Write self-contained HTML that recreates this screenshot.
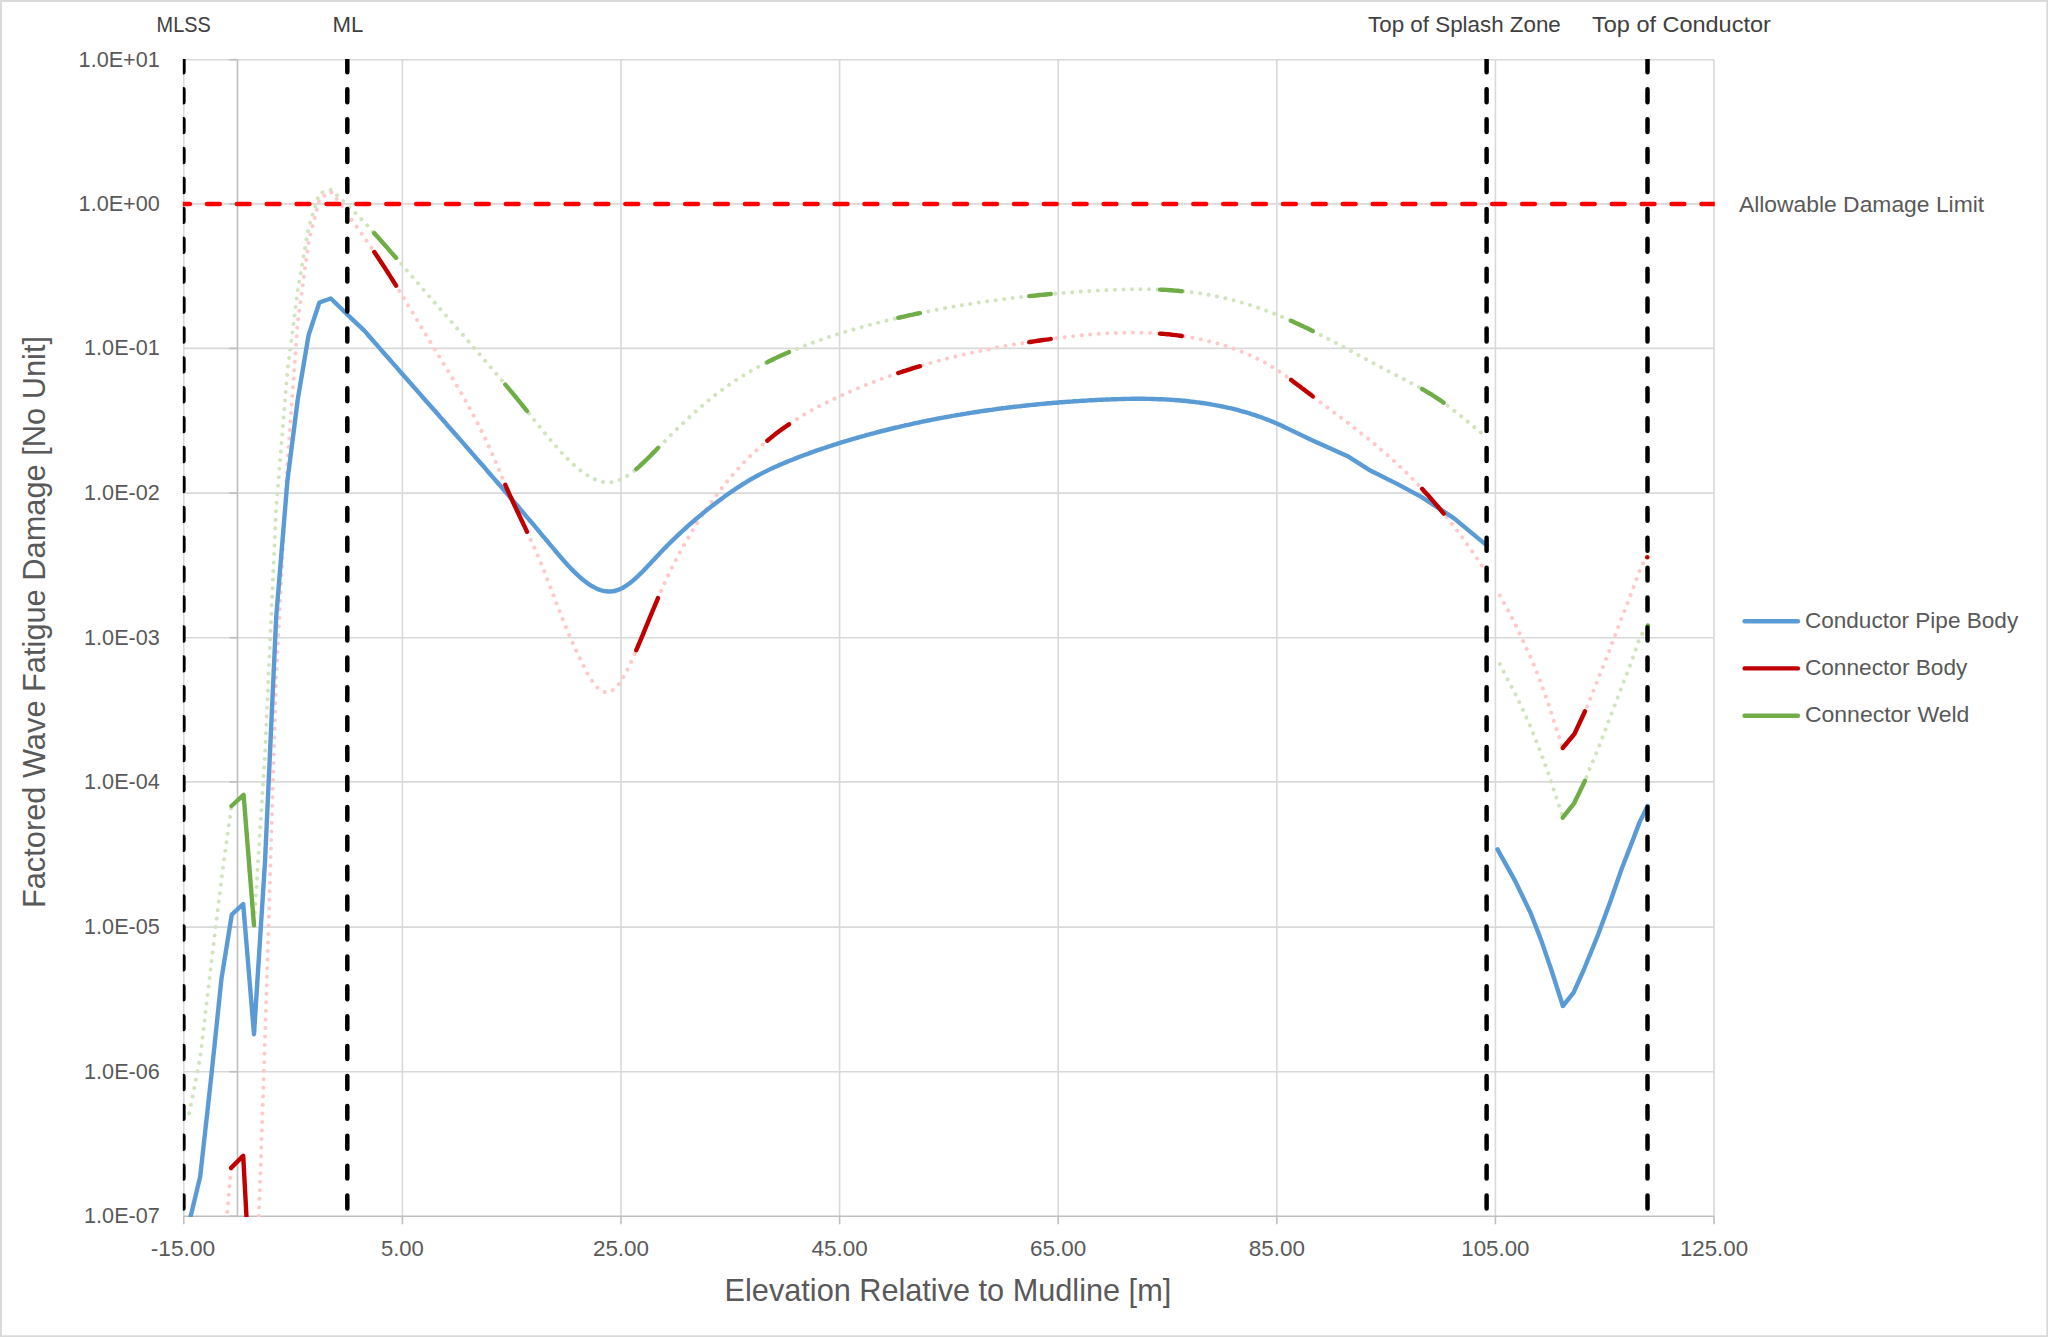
<!DOCTYPE html>
<html lang="en"><head><meta charset="utf-8"><title>Factored Wave Fatigue Damage</title>
<style>html,body{margin:0;padding:0;background:#fff;}body{width:2048px;height:1337px;overflow:hidden;}svg{display:block;}text{font-family:"Liberation Sans",sans-serif;}.t{font-size:22px;fill:#595959;}.d{font-size:22px;fill:#404040;}.a{font-size:30.5px;fill:#595959;}</style></head><body>
<svg width="2048" height="1337" viewBox="0 0 2048 1337">
<rect x="0" y="0" width="2048" height="1337" fill="#fff"/>
<g fill="#d9d9d9"><rect x="0" y="0" width="2048" height="1.9"/><rect x="0" y="0" width="1.9" height="1337"/><rect x="2046.3" y="0" width="1.7" height="1337"/><rect x="0" y="1335.3" width="2048" height="1.7"/></g>
<defs><clipPath id="pa"><rect x="182.8" y="59.0" width="1532.0" height="1158.1"/></clipPath></defs>
<g stroke="#d9d9d9" stroke-width="1.6" fill="none"><line x1="183.8" y1="59.7" x2="1714.0" y2="59.7"/><line x1="183.8" y1="203.9" x2="1714.0" y2="203.9"/><line x1="183.8" y1="348.4" x2="1714.0" y2="348.4"/><line x1="183.8" y1="493.1" x2="1714.0" y2="493.1"/><line x1="183.8" y1="637.7" x2="1714.0" y2="637.7"/><line x1="183.8" y1="781.9" x2="1714.0" y2="781.9"/><line x1="183.8" y1="927.1" x2="1714.0" y2="927.1"/><line x1="183.8" y1="1071.7" x2="1714.0" y2="1071.7"/><line x1="183.8" y1="59.7" x2="183.8" y2="1216.3"/><line x1="402.4" y1="59.7" x2="402.4" y2="1216.3"/><line x1="621.0" y1="59.7" x2="621.0" y2="1216.3"/><line x1="839.6" y1="59.7" x2="839.6" y2="1216.3"/><line x1="1058.2" y1="59.7" x2="1058.2" y2="1216.3"/><line x1="1276.8" y1="59.7" x2="1276.8" y2="1216.3"/><line x1="1495.4" y1="59.7" x2="1495.4" y2="1216.3"/><line x1="1714.0" y1="59.7" x2="1714.0" y2="1216.3"/></g>
<g stroke="#bfbfbf" stroke-width="1.6" fill="none"><line x1="183.8" y1="1216.3" x2="1714.0" y2="1216.3"/><line x1="183.8" y1="1216.3" x2="183.8" y2="1224.3"/><line x1="402.4" y1="1216.3" x2="402.4" y2="1224.3"/><line x1="621.0" y1="1216.3" x2="621.0" y2="1224.3"/><line x1="839.6" y1="1216.3" x2="839.6" y2="1224.3"/><line x1="1058.2" y1="1216.3" x2="1058.2" y2="1224.3"/><line x1="1276.8" y1="1216.3" x2="1276.8" y2="1224.3"/><line x1="1495.4" y1="1216.3" x2="1495.4" y2="1224.3"/><line x1="1714.0" y1="1216.3" x2="1714.0" y2="1224.3"/><line x1="237.5" y1="59.7" x2="237.5" y2="1216.3"/><line x1="229.5" y1="59.7" x2="237.5" y2="59.7"/><line x1="229.5" y1="203.9" x2="237.5" y2="203.9"/><line x1="229.5" y1="348.4" x2="237.5" y2="348.4"/><line x1="229.5" y1="493.1" x2="237.5" y2="493.1"/><line x1="229.5" y1="637.7" x2="237.5" y2="637.7"/><line x1="229.5" y1="781.9" x2="237.5" y2="781.9"/><line x1="229.5" y1="927.1" x2="237.5" y2="927.1"/><line x1="229.5" y1="1071.7" x2="237.5" y2="1071.7"/><line x1="229.5" y1="1216.3" x2="237.5" y2="1216.3"/></g>
<g clip-path="url(#pa)" fill="none" stroke-linecap="round" stroke-linejoin="round" stroke-width="4.4">
<polyline stroke="#ffc9c9" stroke-width="4.0" stroke-dasharray="0.01 8.54" points="221.5,1280.0 231.1,1167.9 243.2,1155.8 254.0,1356.0 265.0,1040.0 276.2,676.0 287.4,463.0 297.8,321.0 308.8,241.0 319.4,199.0 330.6,191.5 337.8,200.4 339.8,203.2 341.8,206.0 343.8,208.8 345.8,211.6 347.8,214.4 349.8,217.2 351.8,220.0 353.8,222.8 355.8,225.5 357.8,228.3 359.8,231.1 361.8,233.9 363.8,236.8 365.8,239.6 367.8,242.5 369.8,245.4 371.8,248.3 373.8,251.2 375.8,254.2 377.8,257.2 379.8,260.2 381.8,263.2 383.8,266.3 385.8,269.4 387.8,272.5 389.8,275.7 391.8,278.9 393.8,282.0 395.8,285.2 397.8,288.5 399.8,291.7 401.8,294.9 403.8,298.2 405.8,301.5 407.8,304.7 409.8,308.0 411.8,311.3 413.8,314.6 415.8,317.9 417.8,321.2 419.8,324.6 421.8,327.9 423.8,331.2 425.8,334.5 427.8,337.8 429.8,341.1 431.8,344.4 433.8,347.7 435.8,351.0 437.8,354.2 439.8,357.5 441.8,360.8 443.8,364.0 445.8,367.3 447.8,370.6 449.8,373.9 451.8,377.2 453.8,380.5 455.8,383.9 457.8,387.3 459.8,390.7 461.8,394.2 463.8,397.7 465.8,401.2 467.8,404.8 469.8,408.4 471.8,412.1 473.8,415.9 475.8,419.7 477.8,423.6 479.8,427.5 481.8,431.5 483.8,435.6 485.8,439.8 487.8,444.1 489.8,448.5 491.8,452.9 493.8,457.5 495.8,462.1 497.8,466.9 499.8,471.7 501.8,476.5 503.8,481.3 505.8,486.0 507.8,490.6 509.8,495.1 511.8,499.5 513.8,503.8 515.8,508.1 517.8,512.3 519.8,516.5 521.8,520.7 523.8,524.9 525.8,529.1 527.8,533.4 529.8,537.7 531.8,542.0 533.8,546.5 535.8,551.0 537.8,555.7 539.8,560.4 541.8,565.3 543.8,570.3 545.8,575.4 547.8,580.5 549.8,585.7 551.8,590.9 553.8,596.1 555.8,601.4 557.8,606.6 559.8,611.7 561.8,616.8 563.8,621.9 565.8,626.8 567.8,631.7 569.8,636.4 571.8,640.9 573.8,645.4 575.8,649.7 577.8,654.0 579.8,658.1 581.8,662.2 583.8,666.3 585.8,670.2 587.8,673.9 589.8,677.4 591.8,680.6 593.8,683.5 595.8,686.0 597.8,688.0 599.8,689.7 601.8,691.0 603.8,691.8 605.8,692.2 607.8,692.1 609.8,691.6 611.8,690.7 613.8,689.4 615.8,687.6 617.8,685.4 619.8,682.8 621.8,679.8 623.8,676.5 625.8,672.9 627.8,668.9 629.8,664.8 631.8,660.5 633.8,656.0 635.8,651.3 637.8,646.6 639.8,641.9 641.8,637.1 643.8,632.3 645.8,627.4 647.8,622.6 649.8,617.7 651.8,612.9 653.8,608.1 655.8,603.3 657.8,598.6 659.8,594.0 661.8,589.4 663.8,584.9 665.8,580.5 667.8,576.3 669.8,572.1 671.8,568.0 673.8,564.1 675.8,560.2 677.8,556.4 679.8,552.6 681.8,549.0 683.8,545.4 685.8,541.9 687.8,538.5 689.8,535.1 691.8,531.8 693.8,528.5 695.8,525.3 697.8,522.1 699.8,519.0 701.8,515.9 703.8,512.9 705.8,510.0 707.8,507.1 709.8,504.2 711.8,501.4 713.8,498.6 715.8,495.9 717.8,493.3 719.8,490.6 721.8,488.1 723.8,485.5 725.8,483.1 727.8,480.6 729.8,478.2 731.8,475.9 733.8,473.6 735.8,471.3 737.8,469.1 739.8,466.9 741.8,464.7 743.8,462.6 745.8,460.6 747.8,458.5 749.8,456.6 751.8,454.6 753.8,452.7 755.8,450.8 757.8,449.0 759.8,447.1 761.8,445.4 763.8,443.6 765.8,441.9 767.8,440.2 769.8,438.6 771.8,437.0 773.8,435.4 775.8,433.8 777.8,432.3 779.8,430.8 781.8,429.3 783.8,427.9 785.8,426.5 787.8,425.1 789.8,423.7 791.8,422.4 793.8,421.1 795.8,419.8 797.8,418.5 799.8,417.3 801.8,416.0 803.8,414.8 805.8,413.7 807.8,412.5 809.8,411.4 811.8,410.2 813.8,409.1 815.8,408.1 817.8,407.0 819.8,405.9 821.8,404.9 823.8,403.9 825.8,402.9 827.8,401.9 829.8,400.9 831.8,399.9 833.8,399.0 835.8,398.0 837.8,397.1 839.8,396.2 841.8,395.3 843.8,394.4 845.8,393.5 847.8,392.6 849.8,391.7 851.8,390.9 853.8,390.0 855.8,389.2 857.8,388.3 859.8,387.5 861.8,386.7 863.8,385.9 865.8,385.0 867.8,384.2 869.8,383.5 871.8,382.7 873.8,381.9 875.8,381.1 877.8,380.4 879.8,379.6 881.8,378.9 883.8,378.1 885.8,377.4 887.8,376.7 889.8,376.0 891.8,375.3 893.8,374.6 895.8,373.9 897.8,373.2 899.8,372.5 901.8,371.9 903.8,371.2 905.8,370.6 907.8,369.9 909.8,369.3 911.8,368.6 913.8,368.0 915.8,367.4 917.8,366.8 919.8,366.2 921.8,365.6 923.8,365.0 925.8,364.4 927.8,363.8 929.8,363.3 931.8,362.7 933.8,362.2 935.8,361.6 937.8,361.1 939.8,360.5 941.8,360.0 943.8,359.5 945.8,358.9 947.8,358.4 949.8,357.9 951.8,357.4 953.8,356.9 955.8,356.4 957.8,355.9 959.8,355.5 961.8,355.0 963.8,354.5 965.8,354.1 967.8,353.6 969.8,353.2 971.8,352.7 973.8,352.3 975.8,351.8 977.8,351.4 979.8,351.0 981.8,350.6 983.8,350.2 985.8,349.8 987.8,349.3 989.8,349.0 991.8,348.6 993.8,348.2 995.8,347.8 997.8,347.4 999.8,347.0 1001.8,346.7 1003.8,346.3 1005.8,345.9 1007.8,345.6 1009.8,345.2 1011.8,344.9 1013.8,344.6 1015.8,344.2 1017.8,343.9 1019.8,343.6 1021.8,343.2 1023.8,342.9 1025.8,342.6 1027.8,342.3 1029.8,342.0 1031.8,341.7 1033.8,341.4 1035.8,341.1 1037.8,340.8 1039.8,340.5 1041.8,340.2 1043.8,339.9 1045.8,339.6 1047.8,339.4 1049.8,339.1 1051.8,338.8 1053.8,338.6 1055.8,338.3 1057.8,338.0 1059.8,337.8 1061.8,337.5 1063.8,337.3 1065.8,337.0 1067.8,336.8 1069.8,336.6 1071.8,336.3 1073.8,336.1 1075.8,335.9 1077.8,335.7 1079.8,335.5 1081.8,335.3 1083.8,335.1 1085.8,334.9 1087.8,334.7 1089.8,334.5 1091.8,334.4 1093.8,334.2 1095.8,334.1 1097.8,333.9 1099.8,333.8 1101.8,333.6 1103.8,333.5 1105.8,333.4 1107.8,333.3 1109.8,333.2 1111.8,333.1 1113.8,333.0 1115.8,332.9 1117.8,332.8 1119.8,332.8 1121.8,332.7 1123.8,332.7 1125.8,332.6 1127.8,332.6 1129.8,332.6 1131.8,332.6 1133.8,332.6 1135.8,332.6 1137.8,332.6 1139.8,332.6 1141.8,332.7 1143.8,332.7 1145.8,332.8 1147.8,332.9 1149.8,332.9 1151.8,333.0 1153.8,333.2 1155.8,333.3 1157.8,333.4 1159.8,333.5 1161.8,333.7 1163.8,333.9 1165.8,334.1 1167.8,334.2 1169.8,334.4 1171.8,334.7 1173.8,334.9 1175.8,335.1 1177.8,335.4 1179.8,335.7 1181.8,336.0 1183.8,336.3 1185.8,336.6 1187.8,336.9 1189.8,337.2 1191.8,337.6 1193.8,338.0 1195.8,338.3 1197.8,338.7 1199.8,339.2 1201.8,339.6 1203.8,340.0 1205.8,340.5 1207.8,341.0 1209.8,341.5 1211.8,342.0 1213.8,342.5 1215.8,343.0 1217.8,343.6 1219.8,344.2 1221.8,344.8 1223.8,345.4 1225.8,346.0 1227.8,346.6 1229.8,347.3 1231.8,348.0 1233.8,348.7 1235.8,349.4 1237.8,350.1 1239.8,350.9 1241.8,351.7 1243.8,352.5 1245.8,353.3 1247.8,354.2 1249.8,355.1 1251.8,356.0 1253.8,356.9 1255.8,357.9 1257.8,358.9 1259.8,359.9 1261.8,360.9 1263.8,362.0 1265.8,363.1 1267.8,364.3 1269.8,365.4 1271.8,366.7 1273.8,367.9 1275.8,369.2 1277.8,370.5 1279.8,371.8 1281.8,373.2 1283.8,374.6 1285.8,376.0 1287.8,377.5 1289.8,378.9 1291.8,380.4 1293.8,381.9 1295.8,383.4 1297.8,384.9 1299.8,386.4 1301.8,388.0 1303.8,389.5 1305.8,391.0 1307.8,392.6 1309.8,394.1 1311.8,395.6 1313.8,397.2 1315.8,398.7 1317.8,400.2 1319.8,401.7 1321.8,403.2 1323.8,404.7 1325.8,406.2 1327.8,407.7 1329.8,409.3 1331.8,410.8 1333.8,412.3 1335.8,413.8 1337.8,415.3 1339.8,416.8 1341.8,418.3 1343.8,419.8 1345.8,421.3 1347.8,422.8 1349.8,424.4 1351.8,425.9 1353.8,427.5 1355.8,429.0 1357.8,430.6 1359.8,432.1 1361.8,433.7 1363.8,435.3 1365.8,436.9 1367.8,438.5 1369.8,440.1 1371.8,441.8 1373.8,443.4 1375.8,445.1 1377.8,446.8 1379.8,448.5 1381.8,450.2 1383.8,451.9 1385.8,453.6 1387.8,455.4 1389.8,457.2 1391.8,459.0 1393.8,460.8 1395.8,462.6 1397.8,464.5 1399.8,466.4 1401.8,468.3 1403.8,470.2 1405.8,472.1 1407.8,474.1 1409.8,476.1 1411.8,478.1 1413.8,480.2 1415.8,482.2 1417.8,484.3 1419.8,486.4 1421.8,488.5 1423.8,490.7 1425.8,492.9 1427.8,495.1 1429.8,497.3 1431.8,499.6 1433.8,501.9 1435.8,504.2 1437.8,506.5 1439.8,508.9 1441.8,511.3 1443.8,513.7 1445.8,516.2 1447.8,518.7 1449.8,521.2 1451.8,523.7 1453.8,526.3 1455.8,528.9 1457.8,531.5 1459.8,534.2 1461.8,536.8 1463.8,539.6 1465.8,542.3 1467.8,545.1 1469.8,547.9 1471.8,550.8 1473.8,553.6 1475.8,556.5 1477.8,559.5 1479.8,562.5 1481.8,565.5 1483.8,568.5 1485.8,571.6 1486.7,573.0"/>
<polyline stroke="#ffc9c9" stroke-width="4.0" stroke-dasharray="0.01 8.54" points="1499.8,595.5 1508.1,610.5 1515.9,625.6 1523.3,641.3 1530.3,656.6 1536.9,672.4 1542.9,688.5 1548.6,704.4 1553.8,720.9 1559.2,737.2 1562.7,748.0 1574.4,734.0 1585.0,711.2 1590.1,699.1 1596.5,683.2 1602.8,667.1 1609.0,651.4 1615.1,635.3 1621.1,619.5 1627.5,603.4 1633.4,587.5 1639.3,571.4 1642.8,563.7 1647.2,557.3"/>
<polyline stroke="#d2e4bd" stroke-width="4.0" stroke-dasharray="0.01 8.54" points="189.2,1113.2 200.2,1058.0 211.1,965.0 222.0,875.0 231.5,806.0 243.6,794.9 254.0,925.3 265.0,753.0 276.2,508.0 287.4,371.0 297.8,290.0 308.6,227.5 319.4,193.3 331.0,189.7 341.7,199.6 343.7,201.5 345.7,203.4 347.7,205.4 349.7,207.3 351.7,209.3 353.7,211.3 355.7,213.4 357.7,215.4 359.7,217.5 361.7,219.6 363.7,221.7 365.7,223.9 367.7,226.0 369.7,228.2 371.7,230.4 373.7,232.6 375.7,234.8 377.7,237.0 379.7,239.2 381.7,241.5 383.7,243.7 385.7,246.0 387.7,248.3 389.7,250.6 391.7,252.9 393.7,255.2 395.7,257.5 397.7,259.8 399.7,262.1 401.7,264.4 403.7,266.7 405.7,269.1 407.7,271.4 409.7,273.7 411.7,276.1 413.7,278.4 415.7,280.7 417.7,283.0 419.7,285.3 421.7,287.7 423.7,290.0 425.7,292.3 427.7,294.6 429.7,296.9 431.7,299.2 433.7,301.5 435.7,303.8 437.7,306.1 439.7,308.4 441.7,310.7 443.7,313.0 445.7,315.3 447.7,317.6 449.7,319.8 451.7,322.1 453.7,324.4 455.7,326.7 457.7,329.0 459.7,331.3 461.7,333.6 463.7,335.9 465.7,338.2 467.7,340.5 469.7,342.8 471.7,345.1 473.7,347.4 475.7,349.8 477.7,352.1 479.7,354.4 481.7,356.7 483.7,359.0 485.7,361.4 487.7,363.7 489.7,366.1 491.7,368.4 493.7,370.8 495.7,373.1 497.7,375.5 499.7,377.8 501.7,380.2 503.7,382.6 505.7,385.0 507.7,387.4 509.7,389.8 511.7,392.2 513.7,394.6 515.7,397.0 517.7,399.5 519.7,401.9 521.7,404.4 523.7,406.8 525.7,409.3 527.7,411.8 529.7,414.3 531.7,416.8 533.7,419.3 535.7,421.8 537.7,424.3 539.7,426.7 541.7,429.2 543.7,431.7 545.7,434.1 547.7,436.6 549.7,439.0 551.7,441.3 553.7,443.7 555.7,446.0 557.7,448.3 559.7,450.5 561.7,452.7 563.7,454.8 565.7,456.9 567.7,458.9 569.7,460.9 571.7,462.8 573.7,464.7 575.7,466.4 577.7,468.1 579.7,469.8 581.7,471.3 583.7,472.8 585.7,474.2 587.7,475.5 589.7,476.7 591.7,477.8 593.7,478.8 595.7,479.7 597.7,480.5 599.7,481.1 601.7,481.7 603.7,482.1 605.7,482.3 607.7,482.4 609.7,482.4 611.7,482.2 613.7,481.9 615.7,481.3 617.7,480.7 619.7,479.9 621.7,479.0 623.7,478.0 625.7,476.8 627.7,475.5 629.7,474.2 631.7,472.7 633.7,471.2 635.7,469.5 637.7,467.8 639.7,466.1 641.7,464.2 643.7,462.3 645.7,460.4 647.7,458.5 649.7,456.5 651.7,454.4 653.7,452.4 655.7,450.4 657.7,448.3 659.7,446.3 661.7,444.2 663.7,442.2 665.7,440.2 667.7,438.2 669.7,436.2 671.7,434.2 673.7,432.2 675.7,430.3 677.7,428.3 679.7,426.4 681.7,424.5 683.7,422.5 685.7,420.7 687.7,418.8 689.7,416.9 691.7,415.1 693.7,413.3 695.7,411.5 697.7,409.7 699.7,407.9 701.7,406.2 703.7,404.5 705.7,402.8 707.7,401.1 709.7,399.4 711.7,397.8 713.7,396.2 715.7,394.6 717.7,393.1 719.7,391.6 721.7,390.1 723.7,388.6 725.7,387.2 727.7,385.8 729.7,384.4 731.7,383.0 733.7,381.6 735.7,380.3 737.7,379.0 739.7,377.7 741.7,376.5 743.7,375.3 745.7,374.0 747.7,372.9 749.7,371.7 751.7,370.5 753.7,369.4 755.7,368.3 757.7,367.2 759.7,366.1 761.7,365.0 763.7,364.0 765.7,363.0 767.7,362.0 769.7,361.0 771.7,360.0 773.7,359.0 775.7,358.1 777.7,357.1 779.7,356.2 781.7,355.3 783.7,354.4 785.7,353.5 787.7,352.7 789.7,351.8 791.7,351.0 793.7,350.1 795.7,349.3 797.7,348.5 799.7,347.7 801.7,346.9 803.7,346.1 805.7,345.3 807.7,344.6 809.7,343.8 811.7,343.1 813.7,342.3 815.7,341.6 817.7,340.9 819.7,340.2 821.7,339.5 823.7,338.8 825.7,338.1 827.7,337.4 829.7,336.8 831.7,336.1 833.7,335.5 835.7,334.8 837.7,334.2 839.7,333.6 841.7,332.9 843.7,332.3 845.7,331.7 847.7,331.1 849.7,330.5 851.7,329.9 853.7,329.4 855.7,328.8 857.7,328.2 859.7,327.7 861.7,327.1 863.7,326.6 865.7,326.0 867.7,325.5 869.7,324.9 871.7,324.4 873.7,323.9 875.7,323.4 877.7,322.8 879.7,322.3 881.7,321.8 883.7,321.3 885.7,320.8 887.7,320.3 889.7,319.9 891.7,319.4 893.7,318.9 895.7,318.4 897.7,318.0 899.7,317.5 901.7,317.0 903.7,316.6 905.7,316.1 907.7,315.7 909.7,315.2 911.7,314.8 913.7,314.4 915.7,313.9 917.7,313.5 919.7,313.1 921.7,312.7 923.7,312.3 925.7,311.9 927.7,311.5 929.7,311.1 931.7,310.7 933.7,310.3 935.7,309.9 937.7,309.5 939.7,309.1 941.7,308.8 943.7,308.4 945.7,308.0 947.7,307.7 949.7,307.3 951.7,307.0 953.7,306.6 955.7,306.3 957.7,305.9 959.7,305.6 961.7,305.3 963.7,304.9 965.7,304.6 967.7,304.3 969.7,304.0 971.7,303.7 973.7,303.3 975.7,303.0 977.7,302.7 979.7,302.4 981.7,302.1 983.7,301.8 985.7,301.6 987.7,301.3 989.7,301.0 991.7,300.7 993.7,300.4 995.7,300.2 997.7,299.9 999.7,299.6 1001.7,299.4 1003.7,299.1 1005.7,298.9 1007.7,298.6 1009.7,298.4 1011.7,298.1 1013.7,297.9 1015.7,297.6 1017.7,297.4 1019.7,297.2 1021.7,297.0 1023.7,296.7 1025.7,296.5 1027.7,296.3 1029.7,296.1 1031.7,295.9 1033.7,295.7 1035.7,295.5 1037.7,295.2 1039.7,295.0 1041.7,294.9 1043.7,294.7 1045.7,294.5 1047.7,294.3 1049.7,294.1 1051.7,293.9 1053.7,293.7 1055.7,293.6 1057.7,293.4 1059.7,293.2 1061.7,293.0 1063.7,292.9 1065.7,292.7 1067.7,292.6 1069.7,292.4 1071.7,292.2 1073.7,292.1 1075.7,291.9 1077.7,291.8 1079.7,291.6 1081.7,291.5 1083.7,291.4 1085.7,291.2 1087.7,291.1 1089.7,291.0 1091.7,290.8 1093.7,290.7 1095.7,290.6 1097.7,290.5 1099.7,290.4 1101.7,290.3 1103.7,290.2 1105.7,290.1 1107.7,290.0 1109.7,289.9 1111.7,289.8 1113.7,289.7 1115.7,289.6 1117.7,289.6 1119.7,289.5 1121.7,289.4 1123.7,289.4 1125.7,289.3 1127.7,289.3 1129.7,289.3 1131.7,289.2 1133.7,289.2 1135.7,289.2 1137.7,289.2 1139.7,289.2 1141.7,289.2 1143.7,289.2 1145.7,289.2 1147.7,289.3 1149.7,289.3 1151.7,289.4 1153.7,289.4 1155.7,289.5 1157.7,289.5 1159.7,289.6 1161.7,289.7 1163.7,289.8 1165.7,289.9 1167.7,290.0 1169.7,290.2 1171.7,290.3 1173.7,290.5 1175.7,290.6 1177.7,290.8 1179.7,291.0 1181.7,291.1 1183.7,291.3 1185.7,291.6 1187.7,291.8 1189.7,292.0 1191.7,292.3 1193.7,292.5 1195.7,292.8 1197.7,293.1 1199.7,293.3 1201.7,293.6 1203.7,294.0 1205.7,294.3 1207.7,294.6 1209.7,295.0 1211.7,295.3 1213.7,295.7 1215.7,296.1 1217.7,296.5 1219.7,296.9 1221.7,297.4 1223.7,297.8 1225.7,298.3 1227.7,298.8 1229.7,299.2 1231.7,299.8 1233.7,300.3 1235.7,300.8 1237.7,301.4 1239.7,301.9 1241.7,302.5 1243.7,303.1 1245.7,303.7 1247.7,304.3 1249.7,304.9 1251.7,305.6 1253.7,306.2 1255.7,306.9 1257.7,307.6 1259.7,308.3 1261.7,309.0 1263.7,309.7 1265.7,310.5 1267.7,311.2 1269.7,312.0 1271.7,312.7 1273.7,313.5 1275.7,314.3 1277.7,315.1 1279.7,316.0 1281.7,316.8 1283.7,317.6 1285.7,318.5 1287.7,319.3 1289.7,320.2 1291.7,321.1 1293.7,322.0 1295.7,322.9 1297.7,323.8 1299.7,324.7 1301.7,325.7 1303.7,326.6 1305.7,327.6 1307.7,328.5 1309.7,329.5 1311.7,330.5 1313.7,331.5 1315.7,332.5 1317.7,333.5 1319.7,334.5 1321.7,335.5 1323.7,336.5 1325.7,337.6 1327.7,338.6 1329.7,339.7 1331.7,340.7 1333.7,341.8 1335.7,342.8 1337.7,343.9 1339.7,345.0 1341.7,346.1 1343.7,347.1 1345.7,348.2 1347.7,349.3 1349.7,350.4 1351.7,351.5 1353.7,352.5 1355.7,353.6 1357.7,354.7 1359.7,355.8 1361.7,356.9 1363.7,358.0 1365.7,359.1 1367.7,360.2 1369.7,361.2 1371.7,362.3 1373.7,363.4 1375.7,364.5 1377.7,365.5 1379.7,366.6 1381.7,367.7 1383.7,368.7 1385.7,369.8 1387.7,370.8 1389.7,371.9 1391.7,372.9 1393.7,373.9 1395.7,375.0 1397.7,376.0 1399.7,377.0 1401.7,378.0 1403.7,379.1 1405.7,380.1 1407.7,381.2 1409.7,382.2 1411.7,383.3 1413.7,384.3 1415.7,385.4 1417.7,386.5 1419.7,387.6 1421.7,388.8 1423.7,389.9 1425.7,391.1 1427.7,392.3 1429.7,393.5 1431.7,394.7 1433.7,396.0 1435.7,397.3 1437.7,398.6 1439.7,399.9 1441.7,401.3 1443.7,402.7 1445.7,404.2 1447.7,405.6 1449.7,407.1 1451.7,408.7 1453.7,410.2 1455.7,411.8 1457.7,413.4 1459.7,415.0 1461.7,416.6 1463.7,418.3 1465.7,419.9 1467.7,421.6 1469.7,423.3 1471.7,424.9 1473.7,426.6 1475.7,428.3 1477.7,429.9 1479.7,431.6 1481.7,433.2 1483.7,434.9 1485.7,436.5 1486.7,437.3"/>
<polyline stroke="#d2e4bd" stroke-width="4.0" stroke-dasharray="0.01 8.54" points="1499.8,664.0 1508.3,680.6 1516.3,695.9 1523.6,711.2 1530.6,727.0 1536.9,742.6 1543.0,758.5 1548.7,774.5 1554.1,790.9 1559.6,807.1 1562.7,817.7 1574.1,803.3 1585.0,780.8 1590.1,767.7 1596.7,752.2 1603.0,735.9 1609.0,720.4 1615.1,704.2 1621.2,688.4 1627.5,672.2 1633.4,656.3 1639.0,640.0 1642.8,632.6 1647.8,625.4"/>
<polyline stroke="#5b9bd5" points="189.3,1222.0 200.2,1176.5 211.1,1078.0 221.5,978.6 231.8,914.6 243.2,904.0 254.0,1034.2 265.0,862.0 276.2,617.0 287.4,481.0 297.8,399.1 308.6,335.1 319.4,302.5 330.8,298.5 341.7,309.0 352.6,319.6 364.3,330.6 366.3,332.9 368.3,335.2 370.3,337.5 372.3,339.8 374.3,342.1 376.3,344.3 378.3,346.6 380.3,348.9 382.3,351.2 384.3,353.5 386.3,355.8 388.3,358.0 390.3,360.3 392.3,362.6 394.3,364.9 396.3,367.1 398.3,369.4 400.3,371.7 402.3,374.0 404.3,376.2 406.3,378.5 408.3,380.8 410.3,383.0 412.3,385.3 414.3,387.6 416.3,389.8 418.3,392.1 420.3,394.4 422.3,396.7 424.3,398.9 426.3,401.2 428.3,403.5 430.3,405.7 432.3,408.0 434.3,410.3 436.3,412.5 438.3,414.8 440.3,417.1 442.3,419.4 444.3,421.6 446.3,423.9 448.3,426.2 450.3,428.5 452.3,430.7 454.3,433.0 456.3,435.3 458.3,437.6 460.3,439.8 462.3,442.1 464.3,444.4 466.3,446.7 468.3,449.0 470.3,451.3 472.3,453.6 474.3,455.9 476.3,458.2 478.3,460.4 480.3,462.7 482.3,465.0 484.3,467.3 486.3,469.6 488.3,472.0 490.3,474.3 492.3,476.6 494.3,478.9 496.3,481.2 498.3,483.5 500.3,485.8 502.3,488.2 504.3,490.5 506.3,492.8 508.3,495.1 510.3,497.5 512.3,499.8 514.3,502.1 516.3,504.5 518.3,506.8 520.3,509.2 522.3,511.5 524.3,513.9 526.3,516.3 528.3,518.6 530.3,521.0 532.3,523.3 534.3,525.7 536.3,528.1 538.3,530.5 540.3,532.9 542.3,535.3 544.3,537.6 546.3,540.0 548.3,542.4 550.3,544.8 552.3,547.2 554.3,549.6 556.3,552.0 558.3,554.4 560.3,556.7 562.3,559.0 564.3,561.3 566.3,563.5 568.3,565.7 570.3,567.8 572.3,569.9 574.3,571.9 576.3,573.8 578.3,575.7 580.3,577.5 582.3,579.2 584.3,580.8 586.3,582.4 588.3,583.8 590.3,585.1 592.3,586.3 594.3,587.4 596.3,588.4 598.3,589.3 600.3,590.0 602.3,590.6 604.3,591.0 606.3,591.3 608.3,591.5 610.3,591.5 612.3,591.3 614.3,591.0 616.3,590.5 618.3,589.8 620.3,588.9 622.3,588.0 624.3,586.8 626.3,585.6 628.3,584.2 630.3,582.7 632.3,581.1 634.3,579.4 636.3,577.6 638.3,575.8 640.3,573.8 642.3,571.9 644.3,569.8 646.3,567.7 648.3,565.6 650.3,563.5 652.3,561.3 654.3,559.2 656.3,557.0 658.3,554.9 660.3,552.8 662.3,550.7 664.3,548.6 666.3,546.6 668.3,544.5 670.3,542.6 672.3,540.6 674.3,538.7 676.3,536.7 678.3,534.8 680.3,533.0 682.3,531.1 684.3,529.3 686.3,527.5 688.3,525.7 690.3,523.9 692.3,522.2 694.3,520.5 696.3,518.8 698.3,517.1 700.3,515.4 702.3,513.8 704.3,512.1 706.3,510.5 708.3,508.9 710.3,507.3 712.3,505.8 714.3,504.2 716.3,502.7 718.3,501.2 720.3,499.7 722.3,498.2 724.3,496.8 726.3,495.3 728.3,493.9 730.3,492.5 732.3,491.1 734.3,489.8 736.3,488.4 738.3,487.1 740.3,485.8 742.3,484.5 744.3,483.3 746.3,482.1 748.3,480.9 750.3,479.7 752.3,478.5 754.3,477.4 756.3,476.3 758.3,475.2 760.3,474.1 762.3,473.1 764.3,472.1 766.3,471.1 768.3,470.1 770.3,469.1 772.3,468.2 774.3,467.3 776.3,466.4 778.3,465.5 780.3,464.6 782.3,463.8 784.3,462.9 786.3,462.1 788.3,461.3 790.3,460.5 792.3,459.7 794.3,458.9 796.3,458.1 798.3,457.3 800.3,456.5 802.3,455.8 804.3,455.0 806.3,454.3 808.3,453.6 810.3,452.8 812.3,452.1 814.3,451.4 816.3,450.7 818.3,450.0 820.3,449.3 822.3,448.6 824.3,448.0 826.3,447.3 828.3,446.6 830.3,446.0 832.3,445.3 834.3,444.7 836.3,444.1 838.3,443.4 840.3,442.8 842.3,442.2 844.3,441.6 846.3,441.0 848.3,440.4 850.3,439.8 852.3,439.2 854.3,438.6 856.3,438.0 858.3,437.5 860.3,436.9 862.3,436.3 864.3,435.8 866.3,435.2 868.3,434.7 870.3,434.1 872.3,433.6 874.3,433.1 876.3,432.5 878.3,432.0 880.3,431.5 882.3,431.0 884.3,430.5 886.3,430.0 888.3,429.5 890.3,429.0 892.3,428.5 894.3,428.0 896.3,427.5 898.3,427.1 900.3,426.6 902.3,426.1 904.3,425.7 906.3,425.2 908.3,424.8 910.3,424.3 912.3,423.9 914.3,423.4 916.3,423.0 918.3,422.6 920.3,422.1 922.3,421.7 924.3,421.3 926.3,420.9 928.3,420.5 930.3,420.1 932.3,419.7 934.3,419.3 936.3,418.9 938.3,418.5 940.3,418.1 942.3,417.8 944.3,417.4 946.3,417.0 948.3,416.7 950.3,416.3 952.3,415.9 954.3,415.6 956.3,415.2 958.3,414.9 960.3,414.6 962.3,414.2 964.3,413.9 966.3,413.6 968.3,413.2 970.3,412.9 972.3,412.6 974.3,412.3 976.3,412.0 978.3,411.7 980.3,411.4 982.3,411.1 984.3,410.8 986.3,410.5 988.3,410.2 990.3,409.9 992.3,409.7 994.3,409.4 996.3,409.1 998.3,408.8 1000.3,408.6 1002.3,408.3 1004.3,408.1 1006.3,407.8 1008.3,407.6 1010.3,407.3 1012.3,407.1 1014.3,406.8 1016.3,406.6 1018.3,406.4 1020.3,406.2 1022.3,405.9 1024.3,405.7 1026.3,405.5 1028.3,405.3 1030.3,405.1 1032.3,404.9 1034.3,404.7 1036.3,404.5 1038.3,404.3 1040.3,404.1 1042.3,403.9 1044.3,403.7 1046.3,403.5 1048.3,403.3 1050.3,403.2 1052.3,403.0 1054.3,402.8 1056.3,402.7 1058.3,402.5 1060.3,402.3 1062.3,402.2 1064.3,402.0 1066.3,401.9 1068.3,401.7 1070.3,401.6 1072.3,401.5 1074.3,401.3 1076.3,401.2 1078.3,401.1 1080.3,400.9 1082.3,400.8 1084.3,400.7 1086.3,400.6 1088.3,400.4 1090.3,400.3 1092.3,400.2 1094.3,400.1 1096.3,400.0 1098.3,399.9 1100.3,399.8 1102.3,399.7 1104.3,399.6 1106.3,399.5 1108.3,399.5 1110.3,399.4 1112.3,399.3 1114.3,399.2 1116.3,399.2 1118.3,399.1 1120.3,399.1 1122.3,399.0 1124.3,399.0 1126.3,398.9 1128.3,398.9 1130.3,398.9 1132.3,398.8 1134.3,398.8 1136.3,398.8 1138.3,398.8 1140.3,398.8 1142.3,398.8 1144.3,398.8 1146.3,398.9 1148.3,398.9 1150.3,398.9 1152.3,399.0 1154.3,399.0 1156.3,399.1 1158.3,399.2 1160.3,399.2 1162.3,399.3 1164.3,399.4 1166.3,399.5 1168.3,399.6 1170.3,399.7 1172.3,399.9 1174.3,400.0 1176.3,400.2 1178.3,400.3 1180.3,400.5 1182.3,400.7 1184.3,400.8 1186.3,401.0 1188.3,401.2 1190.3,401.5 1192.3,401.7 1194.3,401.9 1196.3,402.2 1198.3,402.4 1200.3,402.7 1202.3,403.0 1204.3,403.3 1206.3,403.6 1208.3,403.9 1210.3,404.2 1212.3,404.6 1214.3,404.9 1216.3,405.3 1218.3,405.7 1220.3,406.1 1222.3,406.5 1224.3,406.9 1226.3,407.3 1228.3,407.8 1230.3,408.2 1232.3,408.7 1234.3,409.2 1236.3,409.7 1238.3,410.2 1240.3,410.8 1242.3,411.3 1244.3,411.9 1246.3,412.4 1248.3,413.0 1250.3,413.7 1252.3,414.3 1254.3,414.9 1256.3,415.6 1258.3,416.3 1260.3,417.0 1262.3,417.7 1264.3,418.5 1266.3,419.2 1268.3,420.0 1270.3,420.8 1272.3,421.6 1274.3,422.5 1276.3,423.3 1278.3,424.2 1280.3,425.1 1282.3,426.0 1284.3,427.0 1286.3,427.9 1288.3,428.9 1312.0,440.2 1348.3,456.6 1368.8,469.7 1398.1,484.4 1421.7,497.1 1453.8,518.1 1486.7,545.4"/>
<polyline stroke="#5b9bd5" points="1497.5,849.4 1515.1,880.9 1530.5,912.7 1540.9,939.4 1551.2,969.5 1562.9,1006.0 1573.6,992.7 1583.9,969.5 1597.6,935.9 1609.7,903.2 1621.7,868.8 1633.0,839.6 1639.5,822.4 1647.6,806.0"/>
<polyline stroke="#c00000" points="231.1,1167.9 243.2,1155.8 254.0,1356.0"/>
<polyline stroke="#70ad47" points="231.5,806.0 243.6,794.9 254.0,925.3"/>
<polyline stroke="#c00000" points="374.3,252.0 375.8,254.2 377.8,257.2 379.8,260.2 381.8,263.2 383.8,266.3 385.8,269.4 387.8,272.5 389.8,275.7 391.8,278.9 393.8,282.0 395.8,285.2 396.1,285.7"/>
<polyline stroke="#70ad47" points="374.3,233.2 375.7,234.8 377.7,237.0 379.7,239.2 381.7,241.5 383.7,243.7 385.7,246.0 387.7,248.3 389.7,250.6 391.7,252.9 393.7,255.2 395.7,257.5 396.1,257.9"/>
<polyline stroke="#c00000" points="505.3,484.8 505.8,486.0 507.8,490.6 509.8,495.1 511.8,499.5 513.8,503.8 515.8,508.1 517.8,512.3 519.8,516.5 521.8,520.7 523.8,524.9 525.8,529.1 527.0,531.8"/>
<polyline stroke="#70ad47" points="505.3,384.5 505.7,385.0 507.7,387.4 509.7,389.8 511.7,392.2 513.7,394.6 515.7,397.0 517.7,399.5 519.7,401.9 521.7,404.4 523.7,406.8 525.7,409.3 527.0,411.0"/>
<polyline stroke="#c00000" points="636.2,650.3 637.8,646.6 639.8,641.9 641.8,637.1 643.8,632.3 645.8,627.4 647.8,622.6 649.8,617.7 651.8,612.9 653.8,608.1 655.8,603.3 657.8,598.6 658.0,598.1"/>
<polyline stroke="#70ad47" points="636.2,469.1 637.7,467.8 639.7,466.1 641.7,464.2 643.7,462.3 645.7,460.4 647.7,458.5 649.7,456.5 651.7,454.4 653.7,452.4 655.7,450.4 657.7,448.3 658.0,448.0"/>
<polyline stroke="#c00000" points="767.2,440.7 767.8,440.2 769.8,438.6 771.8,437.0 773.8,435.4 775.8,433.8 777.8,432.3 779.8,430.8 781.8,429.3 783.8,427.9 785.8,426.5 787.8,425.1 789.0,424.3"/>
<polyline stroke="#70ad47" points="767.2,362.2 767.7,362.0 769.7,361.0 771.7,360.0 773.7,359.0 775.7,358.1 777.7,357.1 779.7,356.2 781.7,355.3 783.7,354.4 785.7,353.5 787.7,352.7 789.0,352.1"/>
<polyline stroke="#c00000" points="898.2,373.1 899.8,372.5 901.8,371.9 903.8,371.2 905.8,370.6 907.8,369.9 909.8,369.3 911.8,368.6 913.8,368.0 915.8,367.4 917.8,366.8 919.8,366.2 919.9,366.2"/>
<polyline stroke="#70ad47" points="898.2,317.8 899.7,317.5 901.7,317.0 903.7,316.6 905.7,316.1 907.7,315.7 909.7,315.2 911.7,314.8 913.7,314.4 915.7,313.9 917.7,313.5 919.7,313.1 919.9,313.1"/>
<polyline stroke="#c00000" points="1029.2,342.1 1029.8,342.0 1031.8,341.7 1033.8,341.4 1035.8,341.1 1037.8,340.8 1039.8,340.5 1041.8,340.2 1043.8,339.9 1045.8,339.6 1047.8,339.4 1049.8,339.1 1050.8,338.9"/>
<polyline stroke="#70ad47" points="1029.2,296.1 1029.7,296.1 1031.7,295.9 1033.7,295.7 1035.7,295.5 1037.7,295.2 1039.7,295.0 1041.7,294.9 1043.7,294.7 1045.7,294.5 1047.7,294.3 1049.7,294.1 1050.8,294.0"/>
<polyline stroke="#c00000" points="1160.1,333.6 1161.8,333.7 1163.8,333.9 1165.8,334.1 1167.8,334.2 1169.8,334.4 1171.8,334.7 1173.8,334.9 1175.8,335.1 1177.8,335.4 1179.8,335.7 1181.8,336.0"/>
<polyline stroke="#70ad47" points="1160.1,289.6 1161.7,289.7 1163.7,289.8 1165.7,289.9 1167.7,290.0 1169.7,290.2 1171.7,290.3 1173.7,290.5 1175.7,290.6 1177.7,290.8 1179.7,291.0 1181.7,291.1 1181.8,291.2"/>
<polyline stroke="#c00000" points="1291.1,379.9 1291.8,380.4 1293.8,381.9 1295.8,383.4 1297.8,384.9 1299.8,386.4 1301.8,388.0 1303.8,389.5 1305.8,391.0 1307.8,392.6 1309.8,394.1 1311.8,395.6 1312.8,396.4"/>
<polyline stroke="#70ad47" points="1291.1,320.8 1291.7,321.1 1293.7,322.0 1295.7,322.9 1297.7,323.8 1299.7,324.7 1301.7,325.7 1303.7,326.6 1305.7,327.6 1307.7,328.5 1309.7,329.5 1311.7,330.5 1312.8,331.0"/>
<polyline stroke="#c00000" points="1422.1,488.8 1423.8,490.7 1425.8,492.9 1427.8,495.1 1429.8,497.3 1431.8,499.6 1433.8,501.9 1435.8,504.2 1437.8,506.5 1439.8,508.9 1441.8,511.3 1443.7,513.6"/>
<polyline stroke="#70ad47" points="1422.1,389.0 1423.7,389.9 1425.7,391.1 1427.7,392.3 1429.7,393.5 1431.7,394.7 1433.7,396.0 1435.7,397.3 1437.7,398.6 1439.7,399.9 1441.7,401.3 1443.7,402.7"/>
<polyline stroke="#c00000" points="1562.7,748.0 1574.4,734.0 1585.0,711.2"/>
<polyline stroke="#70ad47" points="1562.7,817.7 1574.1,803.3 1585.0,780.8"/>
<polyline stroke="#c00000" points="1647.2,557.3 1647.3,557.3"/>
<polyline stroke="#70ad47" points="1647.8,625.4 1647.9,625.4"/>
<line stroke="#000" stroke-width="4.5" stroke-dasharray="12.9 17.0" x1="183.4" y1="59.4" x2="183.4" y2="1216.3"/>
<line stroke="#000" stroke-width="4.5" stroke-dasharray="12.9 17.0" x1="347.3" y1="59.4" x2="347.3" y2="1216.3"/>
<line stroke="#000" stroke-width="4.5" stroke-dasharray="12.9 17.0" x1="1486.6" y1="59.4" x2="1486.6" y2="1216.3"/>
<line stroke="#000" stroke-width="4.5" stroke-dasharray="12.9 17.0" x1="1647.5" y1="59.4" x2="1647.5" y2="1216.3"/>
<line stroke="#ff0000" stroke-width="4.4" stroke-dasharray="12.9 16.99" x1="177.01" y1="204.0" x2="1720" y2="204.0"/>
</g>
<line x1="1744.6" y1="621.2" x2="1797.9" y2="621.2" stroke="#5b9bd5" stroke-width="4.4" stroke-linecap="round"/>
<line x1="1744.6" y1="668.4" x2="1797.9" y2="668.4" stroke="#c00000" stroke-width="4.4" stroke-linecap="round"/>
<line x1="1744.6" y1="715.7" x2="1797.9" y2="715.7" stroke="#70ad47" stroke-width="4.4" stroke-linecap="round"/>
<text class="t" x="1804.9" y="627.9" text-anchor="start" textLength="213.3" lengthAdjust="spacingAndGlyphs">Conductor Pipe Body</text>
<text class="t" x="1804.9" y="675.1" text-anchor="start" textLength="162.5" lengthAdjust="spacingAndGlyphs">Connector Body</text>
<text class="t" x="1804.9" y="722.4" text-anchor="start" textLength="164.5" lengthAdjust="spacingAndGlyphs">Connector Weld</text>
<text class="t" x="1738.9" y="212.2" text-anchor="start" textLength="245.3" lengthAdjust="spacingAndGlyphs">Allowable Damage Limit</text>
<text class="d" x="156.6" y="32.0" text-anchor="start" textLength="54.2" lengthAdjust="spacingAndGlyphs">MLSS</text>
<text class="d" x="332.6" y="32.0" text-anchor="start" textLength="30.8" lengthAdjust="spacingAndGlyphs">ML</text>
<text class="d" x="1368.1" y="32.0" text-anchor="start" textLength="192.7" lengthAdjust="spacingAndGlyphs">Top of Splash Zone</text>
<text class="d" x="1592.0" y="32.0" text-anchor="start" textLength="178.8" lengthAdjust="spacingAndGlyphs">Top of Conductor</text>
<text class="t" x="78.6" y="66.5" text-anchor="start" textLength="81.2" lengthAdjust="spacingAndGlyphs">1.0E+01</text>
<text class="t" x="78.6" y="210.7" text-anchor="start" textLength="81.2" lengthAdjust="spacingAndGlyphs">1.0E+00</text>
<text class="t" x="84.1" y="355.2" text-anchor="start" textLength="75.7" lengthAdjust="spacingAndGlyphs">1.0E-01</text>
<text class="t" x="84.1" y="499.9" text-anchor="start" textLength="75.7" lengthAdjust="spacingAndGlyphs">1.0E-02</text>
<text class="t" x="84.1" y="644.5" text-anchor="start" textLength="75.7" lengthAdjust="spacingAndGlyphs">1.0E-03</text>
<text class="t" x="84.1" y="788.7" text-anchor="start" textLength="75.7" lengthAdjust="spacingAndGlyphs">1.0E-04</text>
<text class="t" x="84.1" y="933.9" text-anchor="start" textLength="75.7" lengthAdjust="spacingAndGlyphs">1.0E-05</text>
<text class="t" x="84.1" y="1078.5" text-anchor="start" textLength="75.7" lengthAdjust="spacingAndGlyphs">1.0E-06</text>
<text class="t" x="84.1" y="1223.1" text-anchor="start" textLength="75.7" lengthAdjust="spacingAndGlyphs">1.0E-07</text>
<text class="t" x="150.8" y="1255.7" text-anchor="start" textLength="64.4" lengthAdjust="spacingAndGlyphs">-15.00</text>
<text class="t" x="380.9" y="1255.7" text-anchor="start" textLength="43.0" lengthAdjust="spacingAndGlyphs">5.00</text>
<text class="t" x="592.9" y="1255.7" text-anchor="start" textLength="56.2" lengthAdjust="spacingAndGlyphs">25.00</text>
<text class="t" x="811.5" y="1255.7" text-anchor="start" textLength="56.2" lengthAdjust="spacingAndGlyphs">45.00</text>
<text class="t" x="1030.1" y="1255.7" text-anchor="start" textLength="56.2" lengthAdjust="spacingAndGlyphs">65.00</text>
<text class="t" x="1248.7" y="1255.7" text-anchor="start" textLength="56.2" lengthAdjust="spacingAndGlyphs">85.00</text>
<text class="t" x="1461.3" y="1255.7" text-anchor="start" textLength="68.2" lengthAdjust="spacingAndGlyphs">105.00</text>
<text class="t" x="1679.9" y="1255.7" text-anchor="start" textLength="68.2" lengthAdjust="spacingAndGlyphs">125.00</text>
<text class="a" x="724.6" y="1300.5" text-anchor="start" textLength="446.6" lengthAdjust="spacingAndGlyphs">Elevation Relative to Mudline [m]</text>
<text class="a" transform="translate(45.4 908.1) rotate(-90)" x="0" y="0" textLength="572.1" lengthAdjust="spacingAndGlyphs">Factored Wave Fatigue Damage [No Unit]</text>
</svg></body></html>
